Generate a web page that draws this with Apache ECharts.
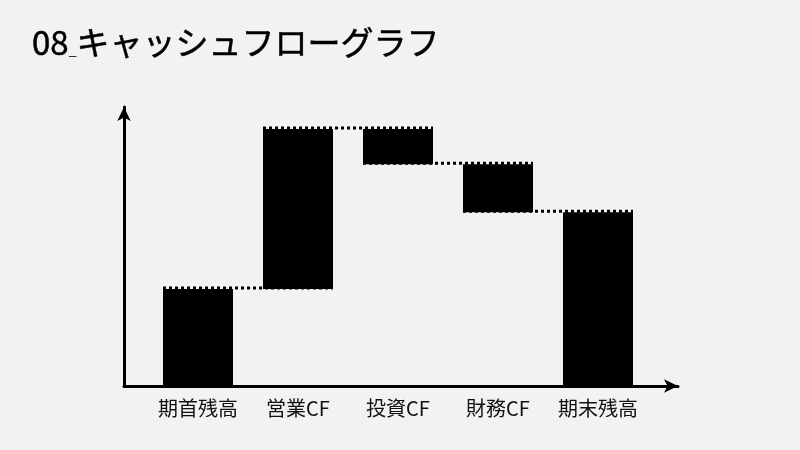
<!DOCTYPE html>
<html>
<head>
<meta charset="utf-8">
<script src="https://cdn.jsdelivr.net/npm/echarts@6/dist/echarts.min.js"></script>
<style>
  html, body { margin: 0; padding: 0; background: #f2f2f2; }
  #main { width: 800px; height: 450px; }
</style>
</head>
<body>
<div id="main"></div>
<script>
const titleNumber = '08'
const titleSep = '_'
const titleName = 'キャッシュフローグラフ'
const categories = ['期首残高', '営業CF', '投資CF', '財務CF', '期末残高']
// 期首・期末は残高、それ以外は増減
const amounts = [60, 100, -22, -30, 108]
const isTotal = [true, false, false, false, true]

// waterfall: transparent base + visible part
const baseValues = []
const barValues = []
const levels = []
let running = 0
amounts.forEach((v, i) => {
    if (isTotal[i]) {
        baseValues.push(0)
        barValues.push(v)
        running = v
    } else {
        const next = running + v
        baseValues.push(Math.min(running, next))
        barValues.push(Math.abs(v))
        running = next
    }
    levels.push(running)
})
// connectors between neighbouring bars
const connectors = levels.slice(0, -1).map((lv, i) => [i, lv])

const fontFamily = '"Noto Sans CJK JP", "Noto Sans", sans-serif'

const chart = echarts.init(document.getElementById('main'))
chart.setOption({
    backgroundColor: '#f2f2f2',
    animation: false,
    title: {
        text: `{a|${titleNumber}}{u|${titleSep}}{a|${titleName}}`,
        left: 27,
        top: 21,
        textStyle: {
            fontWeight: 'normal',
            rich: {
                a: {
                    color: '#000', fontSize: 33, fontWeight: 'normal', fontFamily: fontFamily,
                    textBorderColor: '#000', textBorderWidth: 0.5,
                },
                u: {
                    color: '#000', fontSize: 14, fontWeight: 'normal', fontFamily: fontFamily,
                    verticalAlign: 'bottom', padding: [0, 0, 2, 0],
                },
            },
        },
    },
    grid: [
        { left: 148, right: 152, top: 105, bottom: 65 },
        { left: 124, right: 122, top: 107, bottom: 64 },
    ],
    xAxis: [
        {
            type: 'category',
            gridIndex: 0,
            data: categories,
            axisLine: { show: false },
            axisTick: { show: false },
            axisLabel: {
                interval: 0,
                color: '#111',
                fontSize: 20,
                margin: 13,
                fontFamily: fontFamily,
            },
        },
        {
            type: 'value',
            gridIndex: 1,
            min: 0,
            max: 1,
            axisLine: {
                show: true,
                symbol: ['none', 'arrow'],
                symbolSize: [10, 14],
                lineStyle: { color: '#000', width: 3 },
            },
            axisTick: { show: false },
            axisLabel: { show: false },
            splitLine: { show: false },
        },
    ],
    yAxis: [
        {
            type: 'value',
            gridIndex: 0,
            min: 0,
            max: 175,
            show: false,
        },
        {
            type: 'value',
            gridIndex: 1,
            min: 0,
            max: 1,
            axisLine: {
                show: true,
                symbol: ['none', 'arrow'],
                symbolSize: [10, 14],
                lineStyle: { color: '#000', width: 3 },
            },
            axisTick: { show: false },
            axisLabel: { show: false },
            splitLine: { show: false },
        },
    ],
    series: [
        {
            type: 'bar',
            stack: 'wf',
            data: baseValues,
            barWidth: '70%',
            itemStyle: { color: 'transparent' },
            silent: true,
        },
        {
            type: 'bar',
            stack: 'wf',
            data: barValues,
            barWidth: '70%',
            itemStyle: { color: '#000' },
        },
        {
            type: 'custom',
            data: connectors,
            z: 5,
            renderItem: (params, api) => {
                const p = api.coord([api.value(0), api.value(1)])
                const band = api.size([1, 0])[0]
                const half = band * 0.35
                return {
                    type: 'line',
                    shape: { x1: p[0] - half, y1: p[1] - 1, x2: p[0] + band + half, y2: p[1] - 1 },
                    style: { stroke: '#000', lineWidth: 3, lineDash: [3, 3] },
                }
            },
        },
    ],
})
</script>
</body>
</html>
